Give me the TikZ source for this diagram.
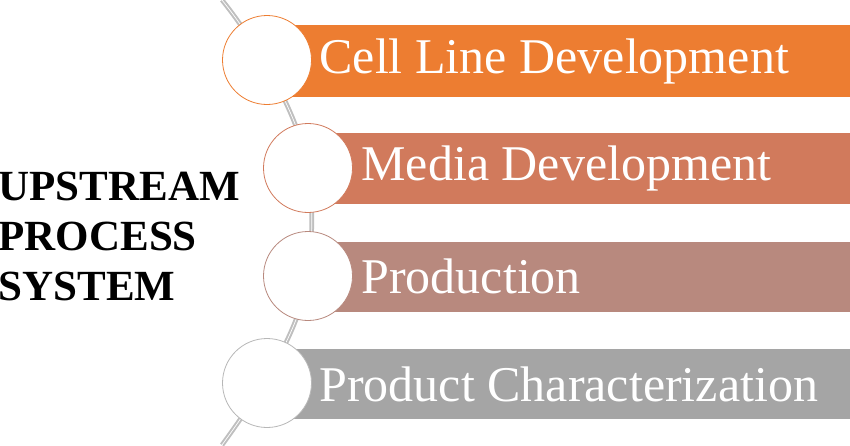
\documentclass[tikz,border=0pt]{standalone}
\usepackage{fontspec}
\setmainfont{Liberation Serif}
\definecolor{c1}{HTML}{ED7D31}
\definecolor{c2}{HTML}{D17A5C}
\definecolor{c3}{HTML}{B8897E}
\definecolor{c4}{HTML}{A5A5A5}
\begin{document}
\begin{tikzpicture}[x=1pt,y=-1pt,
  bar/.style={fill=#1,draw=none},
  circ/.style={circle,draw=#1,fill=white,minimum size=89pt,inner sep=0pt,line width=0.8pt},
  lbl/.style={anchor=west,text=white,font=\fontsize{50}{54}\selectfont}]
\useasboundingbox (0,0) rectangle (850,445);
\coordinate (t) at (222,0);
\coordinate (b) at (222,445);
\draw[gray!50,double=white,line width=2pt,double distance=0.7pt] (t) .. controls (262,50) and (300,120) .. (308,168) .. controls (314,210) and (312,240) .. (308,276) .. controls (300,330) and (262,390) .. (b);
\fill[c1] (290,25) rectangle (850,97);
\fill[c2] (330,133) rectangle (850,204);
\fill[c3] (330,242) rectangle (850,312);
\fill[c4] (290,349) rectangle (850,419);
\node[circ=c1] (k1) at (267,60) {};
\node[circ=c2] (k2) at (308,168) {};
\node[circ=c3] (k3) at (308,276) {};
\node[circ=c4!80] (k4) at (267,383) {};
\node[lbl] (l1) at (316,61) {Cell Line Development};
\node[lbl] (l2) at (358,168) {Media Development};
\node[lbl] (l3) at (358,276) {Production};
\node[lbl] (l4) at (316,384) {Product Characterization};
\node[anchor=west,align=left,font=\bfseries\fontsize{43}{50}\selectfont] (tt) at (-5,236) {UPSTREAM\\PROCESS\\SYSTEM};
\end{tikzpicture}
\end{document}
